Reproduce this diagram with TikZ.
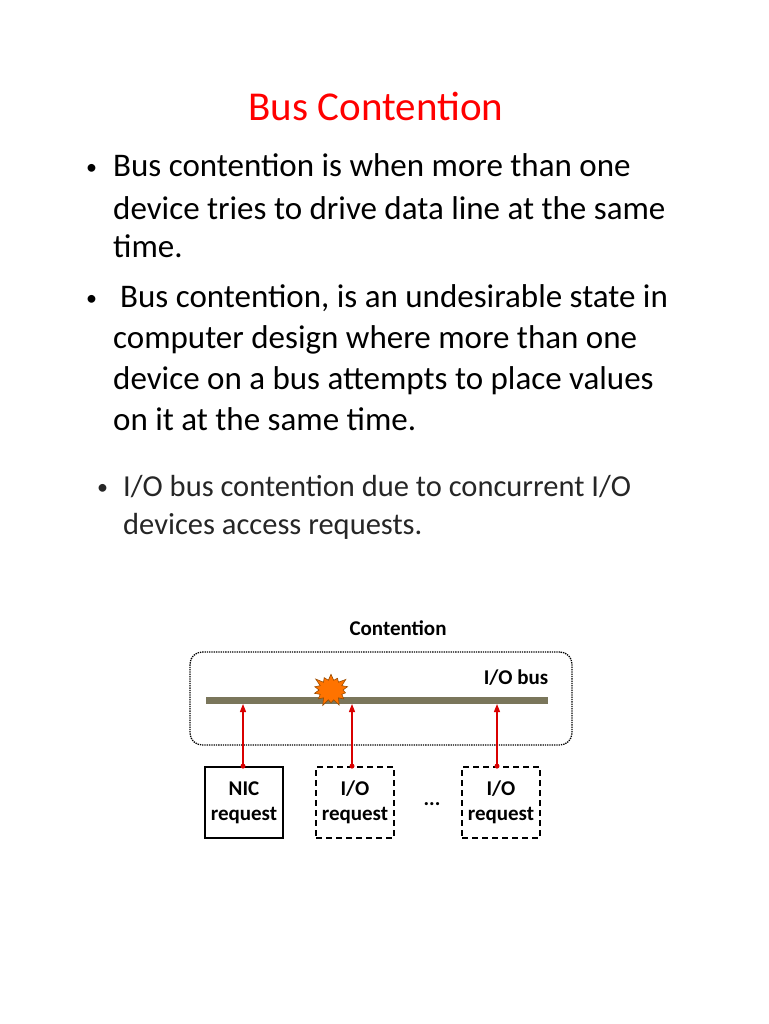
\documentclass[tikz,border=0pt]{standalone}
\usepackage{fontspec}
\setmainfont{Carlito}
\usetikzlibrary{shapes.misc,shapes.symbols,arrows.meta}
\begin{document}
\begin{tikzpicture}[x=1pt,y=-1pt,
  tl/.style={anchor=base west,inner sep=0pt,font=\fontsize{33}{40}\selectfont},
  tl2/.style={anchor=base west,inner sep=0pt,font=\fontsize{30.5}{36}\selectfont,text=black!85},
  bul/.style={anchor=base west,inner sep=0pt,font=\fontsize{22}{26}\selectfont},
  req/.style={draw,line width=1.8pt,minimum width=78pt,minimum height=71pt,align=center,font=\bfseries\fontsize{21}{25}\selectfont,inner sep=1pt},
  arr/.style={red!85!black,line width=1.3pt,-{Triangle[length=8pt,width=6pt]}}]
\useasboundingbox[fill=white] (0,0) rectangle (768,1024);
\node[anchor=base,inner sep=0pt,text=red,font=\fontsize{41}{48}\selectfont] (title) at (376,121) {Bus Contention};
\node[bul] (b1) at (86,175) {•};
\node[tl] (l1) at (113,177) {Bus contention is when more than one};
\node[tl] (l2) at (113,219) {device tries to drive data line at the same};
\node[tl] (l3) at (113,258) {time.};
\node[bul] (b2) at (86,305) {•};
\node[tl] (l4) at (120,307) {Bus contention, is an undesirable state in};
\node[tl] (l5) at (113,348) {computer design where more than one};
\node[tl] (l6) at (113,389) {device on a bus attempts to place values};
\node[tl] (l7) at (113,430) {on it at the same time.};
\node[bul,text=black!85] (b3) at (97,494) {•};
\node[tl2] (l8) at (123,496) {I/O bus contention due to concurrent I/O};
\node[tl2] (l9) at (123,534) {devices access requests.};
% diagram
\node[font=\bfseries\fontsize{21}{25}\selectfont,inner sep=0pt] (cont) at (398,628) {Contention};
\node[draw,densely dotted,line width=1.3pt,rounded corners=12pt,minimum width=382pt,minimum height=93pt] (box) at (381,698.5) {};
\coordinate (bl) at (206,700); \coordinate (br) at (548,700);
\draw[line width=7pt,color=black!45!olive!45!gray] (bl) -- (br);
\node[starburst,fill=orange!90!red,draw=orange!60!black,line width=0.6pt,minimum width=40pt,minimum height=36pt,starburst points=14,starburst point height=8pt,inner sep=0pt] (burst) at (331,690) {};
\node[font=\bfseries\fontsize{21}{25}\selectfont,inner sep=0pt] (iob) at (516,678) {I/O bus};
\node[req] (nic) at (244,802.5) {NIC\\request};
\node[req,dash pattern=on 6pt off 4pt] (io1) at (355,802.5) {I/O\\request};
\node[req,dash pattern=on 6pt off 4pt] (io2) at (501,802.5) {I/O\\request};
\node[font=\bfseries\fontsize{21}{25}\selectfont,inner sep=0pt] (dots) at (432,804) {...};
\coordinate (t1) at (243,704); \coordinate (t2) at (352,704); \coordinate (t3) at (497,704);
\draw[arr] (nic.north -| t1) -- (t1);
\draw[arr] (io1.north -| t2) -- (t2);
\draw[arr] (io2.north -| t3) -- (t3);
\fill[red!85!black] (nic.north -| t1) circle (2.5pt) (io1.north -| t2) circle (2.5pt) (io2.north -| t3) circle (2.5pt);
\end{tikzpicture}
\end{document}
